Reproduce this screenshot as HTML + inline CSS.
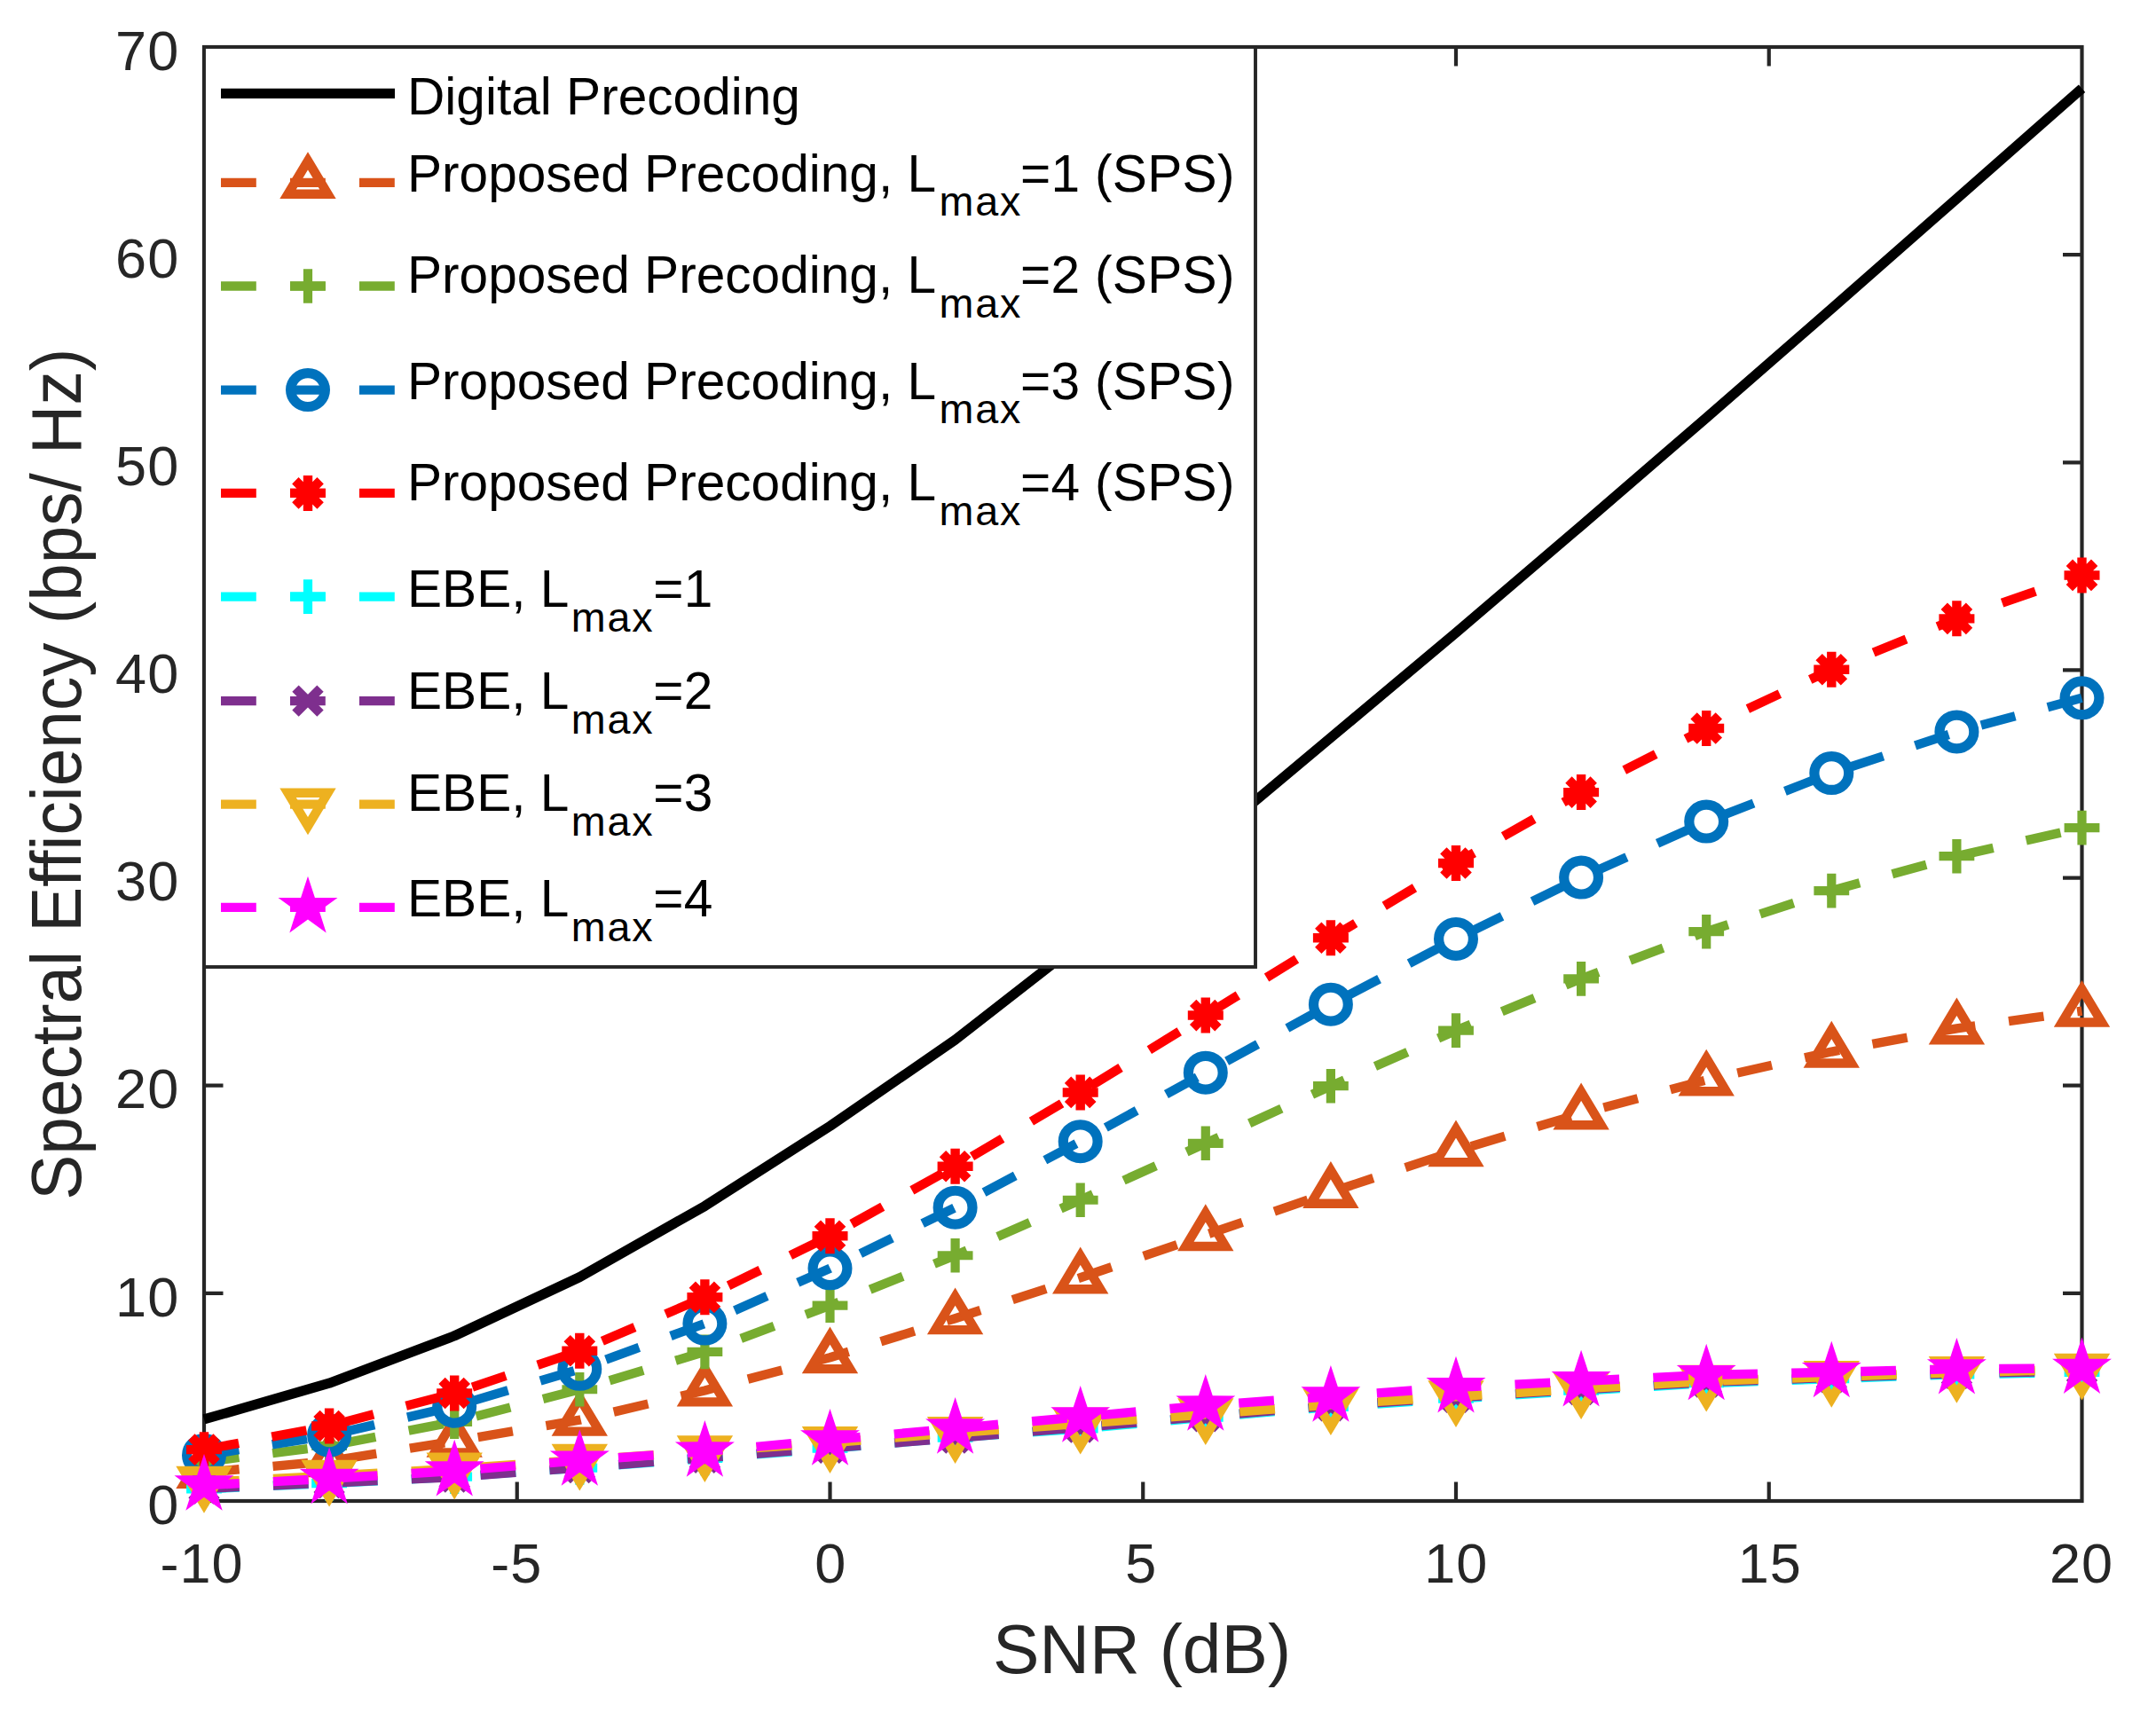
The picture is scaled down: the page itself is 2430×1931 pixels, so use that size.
<!DOCTYPE html>
<html lang="en"><head><meta charset="utf-8"><title>Spectral Efficiency vs SNR</title>
<style>html,body{margin:0;padding:0;background:#fff}body{width:2430px;height:1931px;overflow:hidden}svg{display:block}text{font-family:"Liberation Sans",sans-serif}.tk{font-size:63px;fill:#262626;letter-spacing:1px}.lb{font-size:77.3px;fill:#262626}.yl{font-size:79.2px;fill:#262626}.lg{font-size:58.6px;fill:#000}.sb{font-size:46.7px;fill:#000;letter-spacing:1.8px}</style></head><body>
<svg width="2430" height="1931" viewBox="0 0 2430 1931">
<rect x="0" y="0" width="2430" height="1931" fill="#fff"/>
<g fill="none" stroke="#262626" stroke-width="4.2" stroke-linecap="butt">
<rect x="230" y="53" width="2116.5" height="1639"/>
<path d="M582.75 1692V1670.5M582.75 53V74.5M935.5 1692V1670.5M935.5 53V74.5M1288.25 1692V1670.5M1288.25 53V74.5M1641 1692V1670.5M1641 53V74.5M1993.75 1692V1670.5M1993.75 53V74.5M230 1457.86H251.5M2346.5 1457.86H2325M230 1223.71H251.5M2346.5 1223.71H2325M230 989.57H251.5M2346.5 989.57H2325M230 755.43H251.5M2346.5 755.43H2325M230 521.29H251.5M2346.5 521.29H2325M230 287.14H251.5M2346.5 287.14H2325"/>
</g>
<g>
<polyline points="230,1599.98 371.1,1559.24 512.2,1505.86 653.3,1439.59 794.4,1359.52 935.5,1269.37 1076.6,1172.2 1217.7,1062.16 1358.8,949.77 1499.9,831.52 1641,713.28 1782.1,592.7 1923.2,470.94 2064.3,348.02 2205.4,223.92 2346.5,99.83" fill="none" stroke="#000000" stroke-width="11.2" stroke-linejoin="round"/>
</g>
<g>
<polyline points="230,1659.92 371.1,1647.04 512.2,1624.57 653.3,1600.68 794.4,1567.44 935.5,1530.21 1076.6,1486.19 1217.7,1440.3 1358.8,1392.06 1499.9,1343.83 1641,1297.24 1782.1,1255.32 1923.2,1217.39 2064.3,1185.55 2205.4,1159.32 2346.5,1139.66" fill="none" stroke="#D95319" stroke-width="10.4" stroke-dasharray="39.8 38.06" stroke-linejoin="round"/>
<polygon points="230,1635.32 252.5,1672.82 207.5,1672.82" fill="none" stroke="#D95319" stroke-width="10.4" stroke-linejoin="miter" stroke-miterlimit="10"/>
<polygon points="371.1,1622.44 393.6,1659.94 348.6,1659.94" fill="none" stroke="#D95319" stroke-width="10.4" stroke-linejoin="miter" stroke-miterlimit="10"/>
<polygon points="512.2,1599.97 534.7,1637.47 489.7,1637.47" fill="none" stroke="#D95319" stroke-width="10.4" stroke-linejoin="miter" stroke-miterlimit="10"/>
<polygon points="653.3,1576.08 675.8,1613.58 630.8,1613.58" fill="none" stroke="#D95319" stroke-width="10.4" stroke-linejoin="miter" stroke-miterlimit="10"/>
<polygon points="794.4,1542.84 816.9,1580.34 771.9,1580.34" fill="none" stroke="#D95319" stroke-width="10.4" stroke-linejoin="miter" stroke-miterlimit="10"/>
<polygon points="935.5,1505.61 958,1543.11 913,1543.11" fill="none" stroke="#D95319" stroke-width="10.4" stroke-linejoin="miter" stroke-miterlimit="10"/>
<polygon points="1076.6,1461.59 1099.1,1499.09 1054.1,1499.09" fill="none" stroke="#D95319" stroke-width="10.4" stroke-linejoin="miter" stroke-miterlimit="10"/>
<polygon points="1217.7,1415.7 1240.2,1453.2 1195.2,1453.2" fill="none" stroke="#D95319" stroke-width="10.4" stroke-linejoin="miter" stroke-miterlimit="10"/>
<polygon points="1358.8,1367.46 1381.3,1404.96 1336.3,1404.96" fill="none" stroke="#D95319" stroke-width="10.4" stroke-linejoin="miter" stroke-miterlimit="10"/>
<polygon points="1499.9,1319.23 1522.4,1356.73 1477.4,1356.73" fill="none" stroke="#D95319" stroke-width="10.4" stroke-linejoin="miter" stroke-miterlimit="10"/>
<polygon points="1641,1272.64 1663.5,1310.14 1618.5,1310.14" fill="none" stroke="#D95319" stroke-width="10.4" stroke-linejoin="miter" stroke-miterlimit="10"/>
<polygon points="1782.1,1230.72 1804.6,1268.22 1759.6,1268.22" fill="none" stroke="#D95319" stroke-width="10.4" stroke-linejoin="miter" stroke-miterlimit="10"/>
<polygon points="1923.2,1192.79 1945.7,1230.29 1900.7,1230.29" fill="none" stroke="#D95319" stroke-width="10.4" stroke-linejoin="miter" stroke-miterlimit="10"/>
<polygon points="2064.3,1160.95 2086.8,1198.45 2041.8,1198.45" fill="none" stroke="#D95319" stroke-width="10.4" stroke-linejoin="miter" stroke-miterlimit="10"/>
<polygon points="2205.4,1134.72 2227.9,1172.22 2182.9,1172.22" fill="none" stroke="#D95319" stroke-width="10.4" stroke-linejoin="miter" stroke-miterlimit="10"/>
<polygon points="2346.5,1115.06 2369,1152.56 2324,1152.56" fill="none" stroke="#D95319" stroke-width="10.4" stroke-linejoin="miter" stroke-miterlimit="10"/>
</g>
<g>
<polyline points="230,1647.98 371.1,1629.95 512.2,1602.79 653.3,1566.27 794.4,1523.89 935.5,1471.67 1076.6,1415.24 1217.7,1352.73 1358.8,1288.81 1499.9,1224.18 1641,1161.67 1782.1,1103.36 1923.2,1050.21 2064.3,1004.09 2205.4,965.22 2346.5,933.14" fill="none" stroke="#77AC30" stroke-width="10.4" stroke-dasharray="39.8 38.01" stroke-linejoin="round"/>
<path d="M210.1 1647.98H249.9M230 1628.68V1667.28" fill="none" stroke="#77AC30" stroke-width="10.2"/>
<path d="M351.2 1629.95H391M371.1 1610.65V1649.25" fill="none" stroke="#77AC30" stroke-width="10.2"/>
<path d="M492.3 1602.79H532.1M512.2 1583.49V1622.09" fill="none" stroke="#77AC30" stroke-width="10.2"/>
<path d="M633.4 1566.27H673.2M653.3 1546.97V1585.57" fill="none" stroke="#77AC30" stroke-width="10.2"/>
<path d="M774.5 1523.89H814.3M794.4 1504.59V1543.19" fill="none" stroke="#77AC30" stroke-width="10.2"/>
<path d="M915.6 1471.67H955.4M935.5 1452.37V1490.97" fill="none" stroke="#77AC30" stroke-width="10.2"/>
<path d="M1056.7 1415.24H1096.5M1076.6 1395.94V1434.54" fill="none" stroke="#77AC30" stroke-width="10.2"/>
<path d="M1197.8 1352.73H1237.6M1217.7 1333.43V1372.03" fill="none" stroke="#77AC30" stroke-width="10.2"/>
<path d="M1338.9 1288.81H1378.7M1358.8 1269.51V1308.11" fill="none" stroke="#77AC30" stroke-width="10.2"/>
<path d="M1480 1224.18H1519.8M1499.9 1204.88V1243.48" fill="none" stroke="#77AC30" stroke-width="10.2"/>
<path d="M1621.1 1161.67H1660.9M1641 1142.37V1180.97" fill="none" stroke="#77AC30" stroke-width="10.2"/>
<path d="M1762.2 1103.36H1802M1782.1 1084.06V1122.66" fill="none" stroke="#77AC30" stroke-width="10.2"/>
<path d="M1903.3 1050.21H1943.1M1923.2 1030.91V1069.51" fill="none" stroke="#77AC30" stroke-width="10.2"/>
<path d="M2044.4 1004.09H2084.2M2064.3 984.79V1023.39" fill="none" stroke="#77AC30" stroke-width="10.2"/>
<path d="M2185.5 965.22H2225.3M2205.4 945.92V984.52" fill="none" stroke="#77AC30" stroke-width="10.2"/>
<path d="M2326.6 933.14H2366.4M2346.5 913.84V952.44" fill="none" stroke="#77AC30" stroke-width="10.2"/>
</g>
<g>
<polyline points="230,1640.49 371.1,1618.01 512.2,1585.23 653.3,1543.32 794.4,1492.04 935.5,1429.76 1076.6,1361.16 1217.7,1286.7 1358.8,1209.2 1499.9,1132.16 1641,1058.41 1782.1,989.1 1923.2,926.12 2064.3,871.56 2205.4,824.97 2346.5,786.8" fill="none" stroke="#0072BD" stroke-width="10.4" stroke-dasharray="39.8 37.94" stroke-linejoin="round"/>
<ellipse cx="230" cy="1640.49" rx="19.4" ry="18.9" fill="none" stroke="#0072BD" stroke-width="11.2"/>
<ellipse cx="371.1" cy="1618.01" rx="19.4" ry="18.9" fill="none" stroke="#0072BD" stroke-width="11.2"/>
<ellipse cx="512.2" cy="1585.23" rx="19.4" ry="18.9" fill="none" stroke="#0072BD" stroke-width="11.2"/>
<ellipse cx="653.3" cy="1543.32" rx="19.4" ry="18.9" fill="none" stroke="#0072BD" stroke-width="11.2"/>
<ellipse cx="794.4" cy="1492.04" rx="19.4" ry="18.9" fill="none" stroke="#0072BD" stroke-width="11.2"/>
<ellipse cx="935.5" cy="1429.76" rx="19.4" ry="18.9" fill="none" stroke="#0072BD" stroke-width="11.2"/>
<ellipse cx="1076.6" cy="1361.16" rx="19.4" ry="18.9" fill="none" stroke="#0072BD" stroke-width="11.2"/>
<ellipse cx="1217.7" cy="1286.7" rx="19.4" ry="18.9" fill="none" stroke="#0072BD" stroke-width="11.2"/>
<ellipse cx="1358.8" cy="1209.2" rx="19.4" ry="18.9" fill="none" stroke="#0072BD" stroke-width="11.2"/>
<ellipse cx="1499.9" cy="1132.16" rx="19.4" ry="18.9" fill="none" stroke="#0072BD" stroke-width="11.2"/>
<ellipse cx="1641" cy="1058.41" rx="19.4" ry="18.9" fill="none" stroke="#0072BD" stroke-width="11.2"/>
<ellipse cx="1782.1" cy="989.1" rx="19.4" ry="18.9" fill="none" stroke="#0072BD" stroke-width="11.2"/>
<ellipse cx="1923.2" cy="926.12" rx="19.4" ry="18.9" fill="none" stroke="#0072BD" stroke-width="11.2"/>
<ellipse cx="2064.3" cy="871.56" rx="19.4" ry="18.9" fill="none" stroke="#0072BD" stroke-width="11.2"/>
<ellipse cx="2205.4" cy="824.97" rx="19.4" ry="18.9" fill="none" stroke="#0072BD" stroke-width="11.2"/>
<ellipse cx="2346.5" cy="786.8" rx="19.4" ry="18.9" fill="none" stroke="#0072BD" stroke-width="11.2"/>
</g>
<g>
<polyline points="230,1634.17 371.1,1607.47 512.2,1570.48 653.3,1522.71 794.4,1462.31 935.5,1393.23 1076.6,1314.8 1217.7,1231.44 1358.8,1144.57 1499.9,1057.24 1641,972.95 1782.1,893.1 1923.2,820.99 2064.3,754.73 2205.4,697.36 2346.5,648.43" fill="none" stroke="#FF0000" stroke-width="10.4" stroke-dasharray="39.8 37.9" stroke-linejoin="round"/>
<path d="M210 1634.17H250M230 1614.17V1654.17M215.86 1620.02L244.14 1648.31M215.86 1648.31L244.14 1620.02" fill="none" stroke="#FF0000" stroke-width="10.4"/>
<path d="M351.1 1607.47H391.1M371.1 1587.47V1627.47M356.96 1593.33L385.24 1621.62M356.96 1621.62L385.24 1593.33" fill="none" stroke="#FF0000" stroke-width="10.4"/>
<path d="M492.2 1570.48H532.2M512.2 1550.48V1590.48M498.06 1556.34L526.34 1584.62M498.06 1584.62L526.34 1556.34" fill="none" stroke="#FF0000" stroke-width="10.4"/>
<path d="M633.3 1522.71H673.3M653.3 1502.71V1542.71M639.16 1508.57L667.44 1536.86M639.16 1536.86L667.44 1508.57" fill="none" stroke="#FF0000" stroke-width="10.4"/>
<path d="M774.4 1462.31H814.4M794.4 1442.31V1482.31M780.26 1448.16L808.54 1476.45M780.26 1476.45L808.54 1448.16" fill="none" stroke="#FF0000" stroke-width="10.4"/>
<path d="M915.5 1393.23H955.5M935.5 1373.23V1413.23M921.36 1379.09L949.64 1407.38M921.36 1407.38L949.64 1379.09" fill="none" stroke="#FF0000" stroke-width="10.4"/>
<path d="M1056.6 1314.8H1096.6M1076.6 1294.8V1334.8M1062.46 1300.65L1090.74 1328.94M1062.46 1328.94L1090.74 1300.65" fill="none" stroke="#FF0000" stroke-width="10.4"/>
<path d="M1197.7 1231.44H1237.7M1217.7 1211.44V1251.44M1203.56 1217.3L1231.84 1245.58M1203.56 1245.58L1231.84 1217.3" fill="none" stroke="#FF0000" stroke-width="10.4"/>
<path d="M1338.8 1144.57H1378.8M1358.8 1124.57V1164.57M1344.66 1130.43L1372.94 1158.72M1344.66 1158.72L1372.94 1130.43" fill="none" stroke="#FF0000" stroke-width="10.4"/>
<path d="M1479.9 1057.24H1519.9M1499.9 1037.24V1077.24M1485.76 1043.1L1514.04 1071.38M1485.76 1071.38L1514.04 1043.1" fill="none" stroke="#FF0000" stroke-width="10.4"/>
<path d="M1621 972.95H1661M1641 952.95V992.95M1626.86 958.81L1655.14 987.09M1626.86 987.09L1655.14 958.81" fill="none" stroke="#FF0000" stroke-width="10.4"/>
<path d="M1762.1 893.1H1802.1M1782.1 873.1V913.1M1767.96 878.96L1796.24 907.25M1767.96 907.25L1796.24 878.96" fill="none" stroke="#FF0000" stroke-width="10.4"/>
<path d="M1903.2 820.99H1943.2M1923.2 800.99V840.99M1909.06 806.85L1937.34 835.13M1909.06 835.13L1937.34 806.85" fill="none" stroke="#FF0000" stroke-width="10.4"/>
<path d="M2044.3 754.73H2084.3M2064.3 734.73V774.73M2050.16 740.58L2078.44 768.87M2050.16 768.87L2078.44 740.58" fill="none" stroke="#FF0000" stroke-width="10.4"/>
<path d="M2185.4 697.36H2225.4M2205.4 677.36V717.36M2191.26 683.22L2219.54 711.5M2191.26 711.5L2219.54 683.22" fill="none" stroke="#FF0000" stroke-width="10.4"/>
<path d="M2326.5 648.43H2366.5M2346.5 628.43V668.43M2332.36 634.28L2360.64 662.57M2332.36 662.57L2360.64 634.28" fill="none" stroke="#FF0000" stroke-width="10.4"/>
</g>
<g>
<polyline points="230,1678.42 371.1,1672.1 512.2,1664.61 653.3,1654.54 794.4,1644 935.5,1632.76 1076.6,1620.59 1217.7,1610.52 1358.8,1597.64 1499.9,1585.93 1641,1576.57 1782.1,1567.67 1923.2,1559.24 2064.3,1554.09 2205.4,1549.41 2346.5,1546.83" fill="none" stroke="#00FFFF" stroke-width="10.4" stroke-dasharray="39.8 38.2" stroke-linejoin="round"/>
<path d="M210.1 1678.42H249.9M230 1659.12V1697.72" fill="none" stroke="#00FFFF" stroke-width="10.2"/>
<path d="M351.2 1672.1H391M371.1 1652.8V1691.4" fill="none" stroke="#00FFFF" stroke-width="10.2"/>
<path d="M492.3 1664.61H532.1M512.2 1645.31V1683.91" fill="none" stroke="#00FFFF" stroke-width="10.2"/>
<path d="M633.4 1654.54H673.2M653.3 1635.24V1673.84" fill="none" stroke="#00FFFF" stroke-width="10.2"/>
<path d="M774.5 1644H814.3M794.4 1624.7V1663.3" fill="none" stroke="#00FFFF" stroke-width="10.2"/>
<path d="M915.6 1632.76H955.4M935.5 1613.46V1652.06" fill="none" stroke="#00FFFF" stroke-width="10.2"/>
<path d="M1056.7 1620.59H1096.5M1076.6 1601.29V1639.89" fill="none" stroke="#00FFFF" stroke-width="10.2"/>
<path d="M1197.8 1610.52H1237.6M1217.7 1591.22V1629.82" fill="none" stroke="#00FFFF" stroke-width="10.2"/>
<path d="M1338.9 1597.64H1378.7M1358.8 1578.34V1616.94" fill="none" stroke="#00FFFF" stroke-width="10.2"/>
<path d="M1480 1585.93H1519.8M1499.9 1566.63V1605.23" fill="none" stroke="#00FFFF" stroke-width="10.2"/>
<path d="M1621.1 1576.57H1660.9M1641 1557.27V1595.87" fill="none" stroke="#00FFFF" stroke-width="10.2"/>
<path d="M1762.2 1567.67H1802M1782.1 1548.37V1586.97" fill="none" stroke="#00FFFF" stroke-width="10.2"/>
<path d="M1903.3 1559.24H1943.1M1923.2 1539.94V1578.54" fill="none" stroke="#00FFFF" stroke-width="10.2"/>
<path d="M2044.4 1554.09H2084.2M2064.3 1534.79V1573.39" fill="none" stroke="#00FFFF" stroke-width="10.2"/>
<path d="M2185.5 1549.41H2225.3M2205.4 1530.11V1568.71" fill="none" stroke="#00FFFF" stroke-width="10.2"/>
<path d="M2326.6 1546.83H2366.4M2346.5 1527.53V1566.13" fill="none" stroke="#00FFFF" stroke-width="10.2"/>
</g>
<g>
<polyline points="230,1677.95 371.1,1671.63 512.2,1665.07 653.3,1654.54 794.4,1643.3 935.5,1632.29 1076.6,1621.05 1217.7,1609.11 1358.8,1596.7 1499.9,1584.76 1641,1575.4 1782.1,1566.5 1923.2,1558.07 2064.3,1552.92 2205.4,1548.24 2346.5,1545.66" fill="none" stroke="#7E2F8E" stroke-width="10.4" stroke-dasharray="39.8 38.2" stroke-linejoin="round"/>
<path d="M216 1663.95L244 1691.95M216 1691.95L244 1663.95" fill="none" stroke="#7E2F8E" stroke-width="10.4"/>
<path d="M357.1 1657.63L385.1 1685.63M357.1 1685.63L385.1 1657.63" fill="none" stroke="#7E2F8E" stroke-width="10.4"/>
<path d="M498.2 1651.07L526.2 1679.07M498.2 1679.07L526.2 1651.07" fill="none" stroke="#7E2F8E" stroke-width="10.4"/>
<path d="M639.3 1640.54L667.3 1668.54M639.3 1668.54L667.3 1640.54" fill="none" stroke="#7E2F8E" stroke-width="10.4"/>
<path d="M780.4 1629.3L808.4 1657.3M780.4 1657.3L808.4 1629.3" fill="none" stroke="#7E2F8E" stroke-width="10.4"/>
<path d="M921.5 1618.29L949.5 1646.29M921.5 1646.29L949.5 1618.29" fill="none" stroke="#7E2F8E" stroke-width="10.4"/>
<path d="M1062.6 1607.05L1090.6 1635.06M1062.6 1635.06L1090.6 1607.05" fill="none" stroke="#7E2F8E" stroke-width="10.4"/>
<path d="M1203.7 1595.11L1231.7 1623.11M1203.7 1623.11L1231.7 1595.11" fill="none" stroke="#7E2F8E" stroke-width="10.4"/>
<path d="M1344.8 1582.7L1372.8 1610.7M1344.8 1610.7L1372.8 1582.7" fill="none" stroke="#7E2F8E" stroke-width="10.4"/>
<path d="M1485.9 1570.76L1513.9 1598.76M1485.9 1598.76L1513.9 1570.76" fill="none" stroke="#7E2F8E" stroke-width="10.4"/>
<path d="M1627 1561.4L1655 1589.4M1627 1589.4L1655 1561.4" fill="none" stroke="#7E2F8E" stroke-width="10.4"/>
<path d="M1768.1 1552.5L1796.1 1580.5M1768.1 1580.5L1796.1 1552.5" fill="none" stroke="#7E2F8E" stroke-width="10.4"/>
<path d="M1909.2 1544.07L1937.2 1572.07M1909.2 1572.07L1937.2 1544.07" fill="none" stroke="#7E2F8E" stroke-width="10.4"/>
<path d="M2050.3 1538.92L2078.3 1566.92M2050.3 1566.92L2078.3 1538.92" fill="none" stroke="#7E2F8E" stroke-width="10.4"/>
<path d="M2191.4 1534.24L2219.4 1562.24M2191.4 1562.24L2219.4 1534.24" fill="none" stroke="#7E2F8E" stroke-width="10.4"/>
<path d="M2332.5 1531.66L2360.5 1559.66M2332.5 1559.66L2360.5 1531.66" fill="none" stroke="#7E2F8E" stroke-width="10.4"/>
</g>
<g>
<polyline points="230,1670.93 371.1,1663.9 512.2,1655.71 653.3,1645.87 794.4,1636.27 935.5,1626.21 1076.6,1615.2 1217.7,1604.9 1358.8,1594.36 1499.9,1583.36 1641,1574.23 1782.1,1565.33 1923.2,1556.9 2064.3,1551.98 2205.4,1547.07 2346.5,1543.79" fill="none" stroke="#EDB120" stroke-width="10.4" stroke-dasharray="39.8 38.2" stroke-linejoin="round"/>
<polygon points="230,1695.53 252.5,1658.03 207.5,1658.03" fill="none" stroke="#EDB120" stroke-width="10.4" stroke-linejoin="miter" stroke-miterlimit="10"/>
<polygon points="371.1,1688.5 393.6,1651 348.6,1651" fill="none" stroke="#EDB120" stroke-width="10.4" stroke-linejoin="miter" stroke-miterlimit="10"/>
<polygon points="512.2,1680.31 534.7,1642.81 489.7,1642.81" fill="none" stroke="#EDB120" stroke-width="10.4" stroke-linejoin="miter" stroke-miterlimit="10"/>
<polygon points="653.3,1670.47 675.8,1632.97 630.8,1632.97" fill="none" stroke="#EDB120" stroke-width="10.4" stroke-linejoin="miter" stroke-miterlimit="10"/>
<polygon points="794.4,1660.87 816.9,1623.37 771.9,1623.37" fill="none" stroke="#EDB120" stroke-width="10.4" stroke-linejoin="miter" stroke-miterlimit="10"/>
<polygon points="935.5,1650.81 958,1613.31 913,1613.31" fill="none" stroke="#EDB120" stroke-width="10.4" stroke-linejoin="miter" stroke-miterlimit="10"/>
<polygon points="1076.6,1639.8 1099.1,1602.3 1054.1,1602.3" fill="none" stroke="#EDB120" stroke-width="10.4" stroke-linejoin="miter" stroke-miterlimit="10"/>
<polygon points="1217.7,1629.5 1240.2,1592 1195.2,1592" fill="none" stroke="#EDB120" stroke-width="10.4" stroke-linejoin="miter" stroke-miterlimit="10"/>
<polygon points="1358.8,1618.96 1381.3,1581.46 1336.3,1581.46" fill="none" stroke="#EDB120" stroke-width="10.4" stroke-linejoin="miter" stroke-miterlimit="10"/>
<polygon points="1499.9,1607.96 1522.4,1570.46 1477.4,1570.46" fill="none" stroke="#EDB120" stroke-width="10.4" stroke-linejoin="miter" stroke-miterlimit="10"/>
<polygon points="1641,1598.83 1663.5,1561.33 1618.5,1561.33" fill="none" stroke="#EDB120" stroke-width="10.4" stroke-linejoin="miter" stroke-miterlimit="10"/>
<polygon points="1782.1,1589.93 1804.6,1552.43 1759.6,1552.43" fill="none" stroke="#EDB120" stroke-width="10.4" stroke-linejoin="miter" stroke-miterlimit="10"/>
<polygon points="1923.2,1581.5 1945.7,1544 1900.7,1544" fill="none" stroke="#EDB120" stroke-width="10.4" stroke-linejoin="miter" stroke-miterlimit="10"/>
<polygon points="2064.3,1576.58 2086.8,1539.08 2041.8,1539.08" fill="none" stroke="#EDB120" stroke-width="10.4" stroke-linejoin="miter" stroke-miterlimit="10"/>
<polygon points="2205.4,1571.67 2227.9,1534.17 2182.9,1534.17" fill="none" stroke="#EDB120" stroke-width="10.4" stroke-linejoin="miter" stroke-miterlimit="10"/>
<polygon points="2346.5,1568.39 2369,1530.89 2324,1530.89" fill="none" stroke="#EDB120" stroke-width="10.4" stroke-linejoin="miter" stroke-miterlimit="10"/>
</g>
<g>
<polyline points="230,1674.21 371.1,1666.71 512.2,1658.05 653.3,1646.34 794.4,1636.27 935.5,1623.16 1076.6,1610.28 1217.7,1597.17 1358.8,1584.29 1499.9,1574.23 1641,1563.92 1782.1,1556.9 1923.2,1549.88 2064.3,1546.83 2205.4,1543.09 2346.5,1542.62" fill="none" stroke="#FF00FF" stroke-width="10.4" stroke-dasharray="39.8 38.2" stroke-linejoin="round"/>
<polygon points="230,1639.01 237.94,1663.28 263.48,1663.33 242.84,1678.38 250.69,1702.68 230,1687.71 209.31,1702.68 217.16,1678.38 196.52,1663.33 222.06,1663.28" fill="#FF00FF"/>
<polygon points="371.1,1631.51 379.04,1655.79 404.58,1655.84 383.94,1670.88 391.79,1695.19 371.1,1680.21 350.41,1695.19 358.26,1670.88 337.62,1655.84 363.16,1655.79" fill="#FF00FF"/>
<polygon points="512.2,1622.85 520.14,1647.13 545.68,1647.17 525.04,1662.22 532.89,1686.53 512.2,1671.55 491.51,1686.53 499.36,1662.22 478.72,1647.17 504.26,1647.13" fill="#FF00FF"/>
<polygon points="653.3,1611.14 661.24,1635.42 686.78,1635.46 666.14,1650.51 673.99,1674.82 653.3,1659.84 632.61,1674.82 640.46,1650.51 619.82,1635.46 645.36,1635.42" fill="#FF00FF"/>
<polygon points="794.4,1601.07 802.34,1625.35 827.88,1625.4 807.24,1640.45 815.09,1664.75 794.4,1649.77 773.71,1664.75 781.56,1640.45 760.92,1625.4 786.46,1625.35" fill="#FF00FF"/>
<polygon points="935.5,1587.96 943.44,1612.24 968.98,1612.28 948.34,1627.33 956.19,1651.64 935.5,1636.66 914.81,1651.64 922.66,1627.33 902.02,1612.28 927.56,1612.24" fill="#FF00FF"/>
<polygon points="1076.6,1575.08 1084.54,1599.36 1110.08,1599.41 1089.44,1614.46 1097.29,1638.76 1076.6,1623.78 1055.91,1638.76 1063.76,1614.46 1043.12,1599.41 1068.66,1599.36" fill="#FF00FF"/>
<polygon points="1217.7,1561.97 1225.64,1586.25 1251.18,1586.29 1230.54,1601.34 1238.39,1625.65 1217.7,1610.67 1197.01,1625.65 1204.86,1601.34 1184.22,1586.29 1209.76,1586.25" fill="#FF00FF"/>
<polygon points="1358.8,1549.09 1366.74,1573.37 1392.28,1573.42 1371.64,1588.47 1379.49,1612.77 1358.8,1597.79 1338.11,1612.77 1345.96,1588.47 1325.32,1573.42 1350.86,1573.37" fill="#FF00FF"/>
<polygon points="1499.9,1539.03 1507.84,1563.3 1533.38,1563.35 1512.74,1578.4 1520.59,1602.7 1499.9,1587.73 1479.21,1602.7 1487.06,1578.4 1466.42,1563.35 1491.96,1563.3" fill="#FF00FF"/>
<polygon points="1641,1528.72 1648.94,1553 1674.48,1553.05 1653.84,1568.1 1661.69,1592.4 1641,1577.42 1620.31,1592.4 1628.16,1568.1 1607.52,1553.05 1633.06,1553" fill="#FF00FF"/>
<polygon points="1782.1,1521.7 1790.04,1545.98 1815.58,1546.02 1794.94,1561.07 1802.79,1585.38 1782.1,1570.4 1761.41,1585.38 1769.26,1561.07 1748.62,1546.02 1774.16,1545.98" fill="#FF00FF"/>
<polygon points="1923.2,1514.68 1931.14,1538.95 1956.68,1539 1936.04,1554.05 1943.89,1578.35 1923.2,1563.38 1902.51,1578.35 1910.36,1554.05 1889.72,1539 1915.26,1538.95" fill="#FF00FF"/>
<polygon points="2064.3,1511.63 2072.24,1535.91 2097.78,1535.95 2077.14,1551 2084.99,1575.31 2064.3,1560.33 2043.61,1575.31 2051.46,1551 2030.82,1535.95 2056.36,1535.91" fill="#FF00FF"/>
<polygon points="2205.4,1507.89 2213.34,1532.16 2238.88,1532.21 2218.24,1547.26 2226.09,1571.56 2205.4,1556.59 2184.71,1571.56 2192.56,1547.26 2171.92,1532.21 2197.46,1532.16" fill="#FF00FF"/>
<polygon points="2346.5,1507.42 2354.44,1531.7 2379.98,1531.74 2359.34,1546.79 2367.19,1571.09 2346.5,1556.12 2325.81,1571.09 2333.66,1546.79 2313.02,1531.74 2338.56,1531.7" fill="#FF00FF"/>
</g>
<g class="tk" text-anchor="middle">
<text class="tk" x="227.5" y="1783.5">-10</text>
<text class="tk" x="582.25" y="1783.5">-5</text>
<text class="tk" x="936.3" y="1783.5">0</text>
<text class="tk" x="1286.25" y="1783.5">5</text>
<text class="tk" x="1641.3" y="1783.5">10</text>
<text class="tk" x="1994.75" y="1783.5">15</text>
<text class="tk" x="2346" y="1783.5">20</text>
</g>
<g class="tk" text-anchor="end">
<text class="tk" x="202.2" y="1717.7">0</text>
<text class="tk" x="202.2" y="1483.56">10</text>
<text class="tk" x="202.2" y="1249.41">20</text>
<text class="tk" x="202.2" y="1015.27">30</text>
<text class="tk" x="202.2" y="781.13">40</text>
<text class="tk" x="202.2" y="546.99">50</text>
<text class="tk" x="202.2" y="312.84">60</text>
<text class="tk" x="202.2" y="78.7">70</text>
</g>
<text class="lb" text-anchor="middle" transform="translate(1287 1886) scale(1.017 1)">SNR (dB)</text>
<text class="yl" text-anchor="middle" transform="translate(91 872.8) rotate(-90) scale(0.9665 1)">Spectral Efficiency (bps/ Hz)</text>
<rect x="230" y="53" width="1185" height="1037" fill="#fff" stroke="#262626" stroke-width="3.9"/>
<path d="M249 105.4H445" stroke="#000000" stroke-width="11.2" fill="none"/>
<text class="lg" x="459" y="128.6">Digital Precoding</text>
<path d="M249 205.9H445" stroke="#D95319" stroke-width="10.4" stroke-dasharray="39.8 38.2" fill="none"/>
<polygon points="347,181.3 369.5,218.8 324.5,218.8" fill="none" stroke="#D95319" stroke-width="10.4" stroke-linejoin="miter" stroke-miterlimit="10"/>
<text class="lg" x="459" y="215.9">Proposed Precoding, L<tspan class="sb" x="1058.5" dy="27.5">max</tspan><tspan x="1150" dy="-27.5" letter-spacing="0.3">=1 (SPS)</tspan></text>
<path d="M249 322.5H445" stroke="#77AC30" stroke-width="10.4" stroke-dasharray="39.8 38.2" fill="none"/>
<path d="M327.1 322.5H366.9M347 303.2V341.8" fill="none" stroke="#77AC30" stroke-width="10.2"/>
<text class="lg" x="459" y="330">Proposed Precoding, L<tspan class="sb" x="1058.5" dy="27.5">max</tspan><tspan x="1150" dy="-27.5" letter-spacing="0.3">=2 (SPS)</tspan></text>
<path d="M249 439.6H445" stroke="#0072BD" stroke-width="10.4" stroke-dasharray="39.8 38.2" fill="none"/>
<ellipse cx="347" cy="439.6" rx="19.4" ry="18.9" fill="none" stroke="#0072BD" stroke-width="11.2"/>
<text class="lg" x="459" y="449.8">Proposed Precoding, L<tspan class="sb" x="1058.5" dy="27.5">max</tspan><tspan x="1150" dy="-27.5" letter-spacing="0.3">=3 (SPS)</tspan></text>
<path d="M249 555.9H445" stroke="#FF0000" stroke-width="10.4" stroke-dasharray="39.8 38.2" fill="none"/>
<path d="M327 555.9H367M347 535.9V575.9M332.86 541.76L361.14 570.04M332.86 570.04L361.14 541.76" fill="none" stroke="#FF0000" stroke-width="10.4"/>
<text class="lg" x="459" y="564.2">Proposed Precoding, L<tspan class="sb" x="1058.5" dy="27.5">max</tspan><tspan x="1150" dy="-27.5" letter-spacing="0.3">=4 (SPS)</tspan></text>
<path d="M249 672.6H445" stroke="#00FFFF" stroke-width="10.4" stroke-dasharray="39.8 38.2" fill="none"/>
<path d="M327.1 672.6H366.9M347 653.3V691.9" fill="none" stroke="#00FFFF" stroke-width="10.2"/>
<text class="lg" x="459" y="684.2">EBE, L<tspan class="sb" x="643.8" dy="27.5">max</tspan><tspan x="736.3" dy="-27.5" letter-spacing="0.3">=1</tspan></text>
<path d="M249 790.1H445" stroke="#7E2F8E" stroke-width="10.4" stroke-dasharray="39.8 38.2" fill="none"/>
<path d="M333 776.1L361 804.1M333 804.1L361 776.1" fill="none" stroke="#7E2F8E" stroke-width="10.4"/>
<text class="lg" x="459" y="799.2">EBE, L<tspan class="sb" x="643.8" dy="27.5">max</tspan><tspan x="736.3" dy="-27.5" letter-spacing="0.3">=2</tspan></text>
<path d="M249 906.6H445" stroke="#EDB120" stroke-width="10.4" stroke-dasharray="39.8 38.2" fill="none"/>
<polygon points="347,931.2 369.5,893.7 324.5,893.7" fill="none" stroke="#EDB120" stroke-width="10.4" stroke-linejoin="miter" stroke-miterlimit="10"/>
<text class="lg" x="459" y="914">EBE, L<tspan class="sb" x="643.8" dy="27.5">max</tspan><tspan x="736.3" dy="-27.5" letter-spacing="0.3">=3</tspan></text>
<path d="M249 1022.9H445" stroke="#FF00FF" stroke-width="10.4" stroke-dasharray="39.8 38.2" fill="none"/>
<polygon points="347,987.7 354.94,1011.98 380.48,1012.02 359.84,1027.07 367.69,1051.38 347,1036.4 326.31,1051.38 334.16,1027.07 313.52,1012.02 339.06,1011.98" fill="#FF00FF"/>
<text class="lg" x="459" y="1033.3">EBE, L<tspan class="sb" x="643.8" dy="27.5">max</tspan><tspan x="736.3" dy="-27.5" letter-spacing="0.3">=4</tspan></text>
</svg></body></html>
